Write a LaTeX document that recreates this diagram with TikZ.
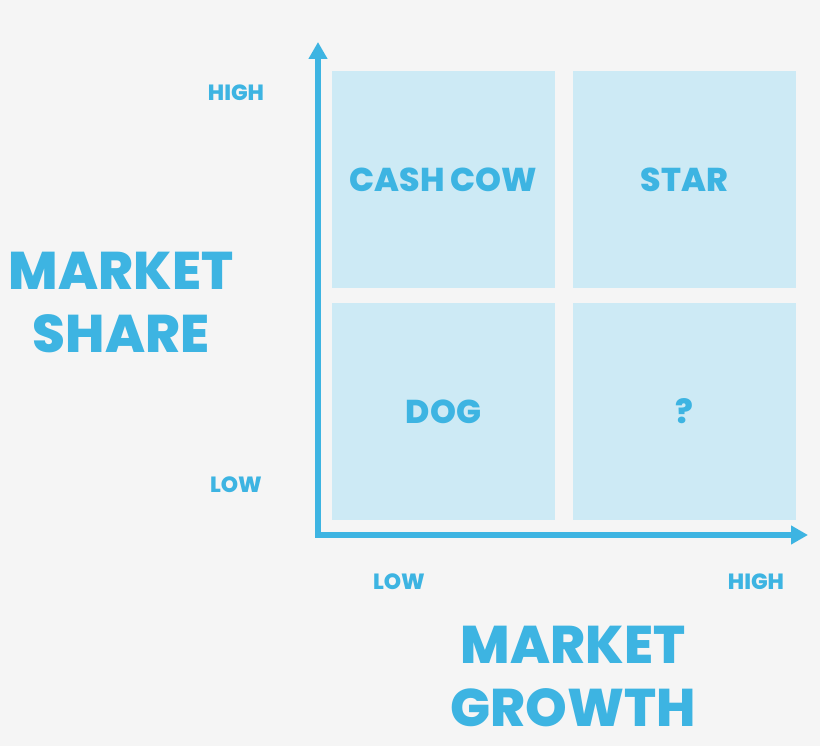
\documentclass[tikz,border=0pt]{standalone}
\usepackage{fontspec}
\setmainfont{Poppins}[BoldFont={Poppins ExtraBold}]
\usetikzlibrary{arrows.meta}
\definecolor{bcgblue}{HTML}{3DB4E2}
\definecolor{bcgcell}{HTML}{CDEAF5}
\definecolor{bcgback}{HTML}{F5F5F5}

\begin{document}
\begin{tikzpicture}[
			x = 1pt, y = -1pt,
			cell/.style = {fill=bcgcell, minimum width=223pt, minimum height=217pt, inner sep=0pt},
			axis/.style = {bcgblue, line width=5.5pt, line join=miter, {Triangle[length=17pt,width=18pt]}-{Triangle[length=17pt,width=18pt]}},
			level/.style = {text=bcgblue, font=\bfseries\fontsize{22}{22}\selectfont},
			quad/.style = {text=bcgblue, font=\bfseries\fontsize{33}{33}\selectfont},
			title/.style = {text=bcgblue, align=center, font=\bfseries\fontsize{53}{63}\selectfont}
			]

			\fill[bcgback] (0,0) rectangle (820,746);

			% the four cells
			\node[cell] (cow) at (443.5,180) {};
			\node[cell] (star) at (684.5,180) {};
			\node[cell] (dog) at (443.5,411.5) {};
			\node[cell] (query) at (684.5,411.5) {};
			\node[quad] at (cow) {CASH COW};
			\node[quad] at (star) {STAR};
			\node[quad] at (dog) {DOG};
			\node[quad] at (query) {?};

			% axes
			\coordinate (origin) at (318,535);
			\coordinate (ytip) at (318,42);
			\coordinate (xtip) at (808,535);
			\draw[axis] (ytip) -- (origin) -- (xtip);

			\node[level] (yhigh) at (236,93) {HIGH};
			\node[level] (ylow) at (236,485) {LOW};
			\node[level] (xlow) at (399,582) {LOW};
			\node[level] (xhigh) at (756,582) {HIGH};

			\node[title] (share) at (121,303) {MARKET\\SHARE};
			\node[title] (growth) at (573,677) {MARKET\\GROWTH};

		\end{tikzpicture}
\end{document}
